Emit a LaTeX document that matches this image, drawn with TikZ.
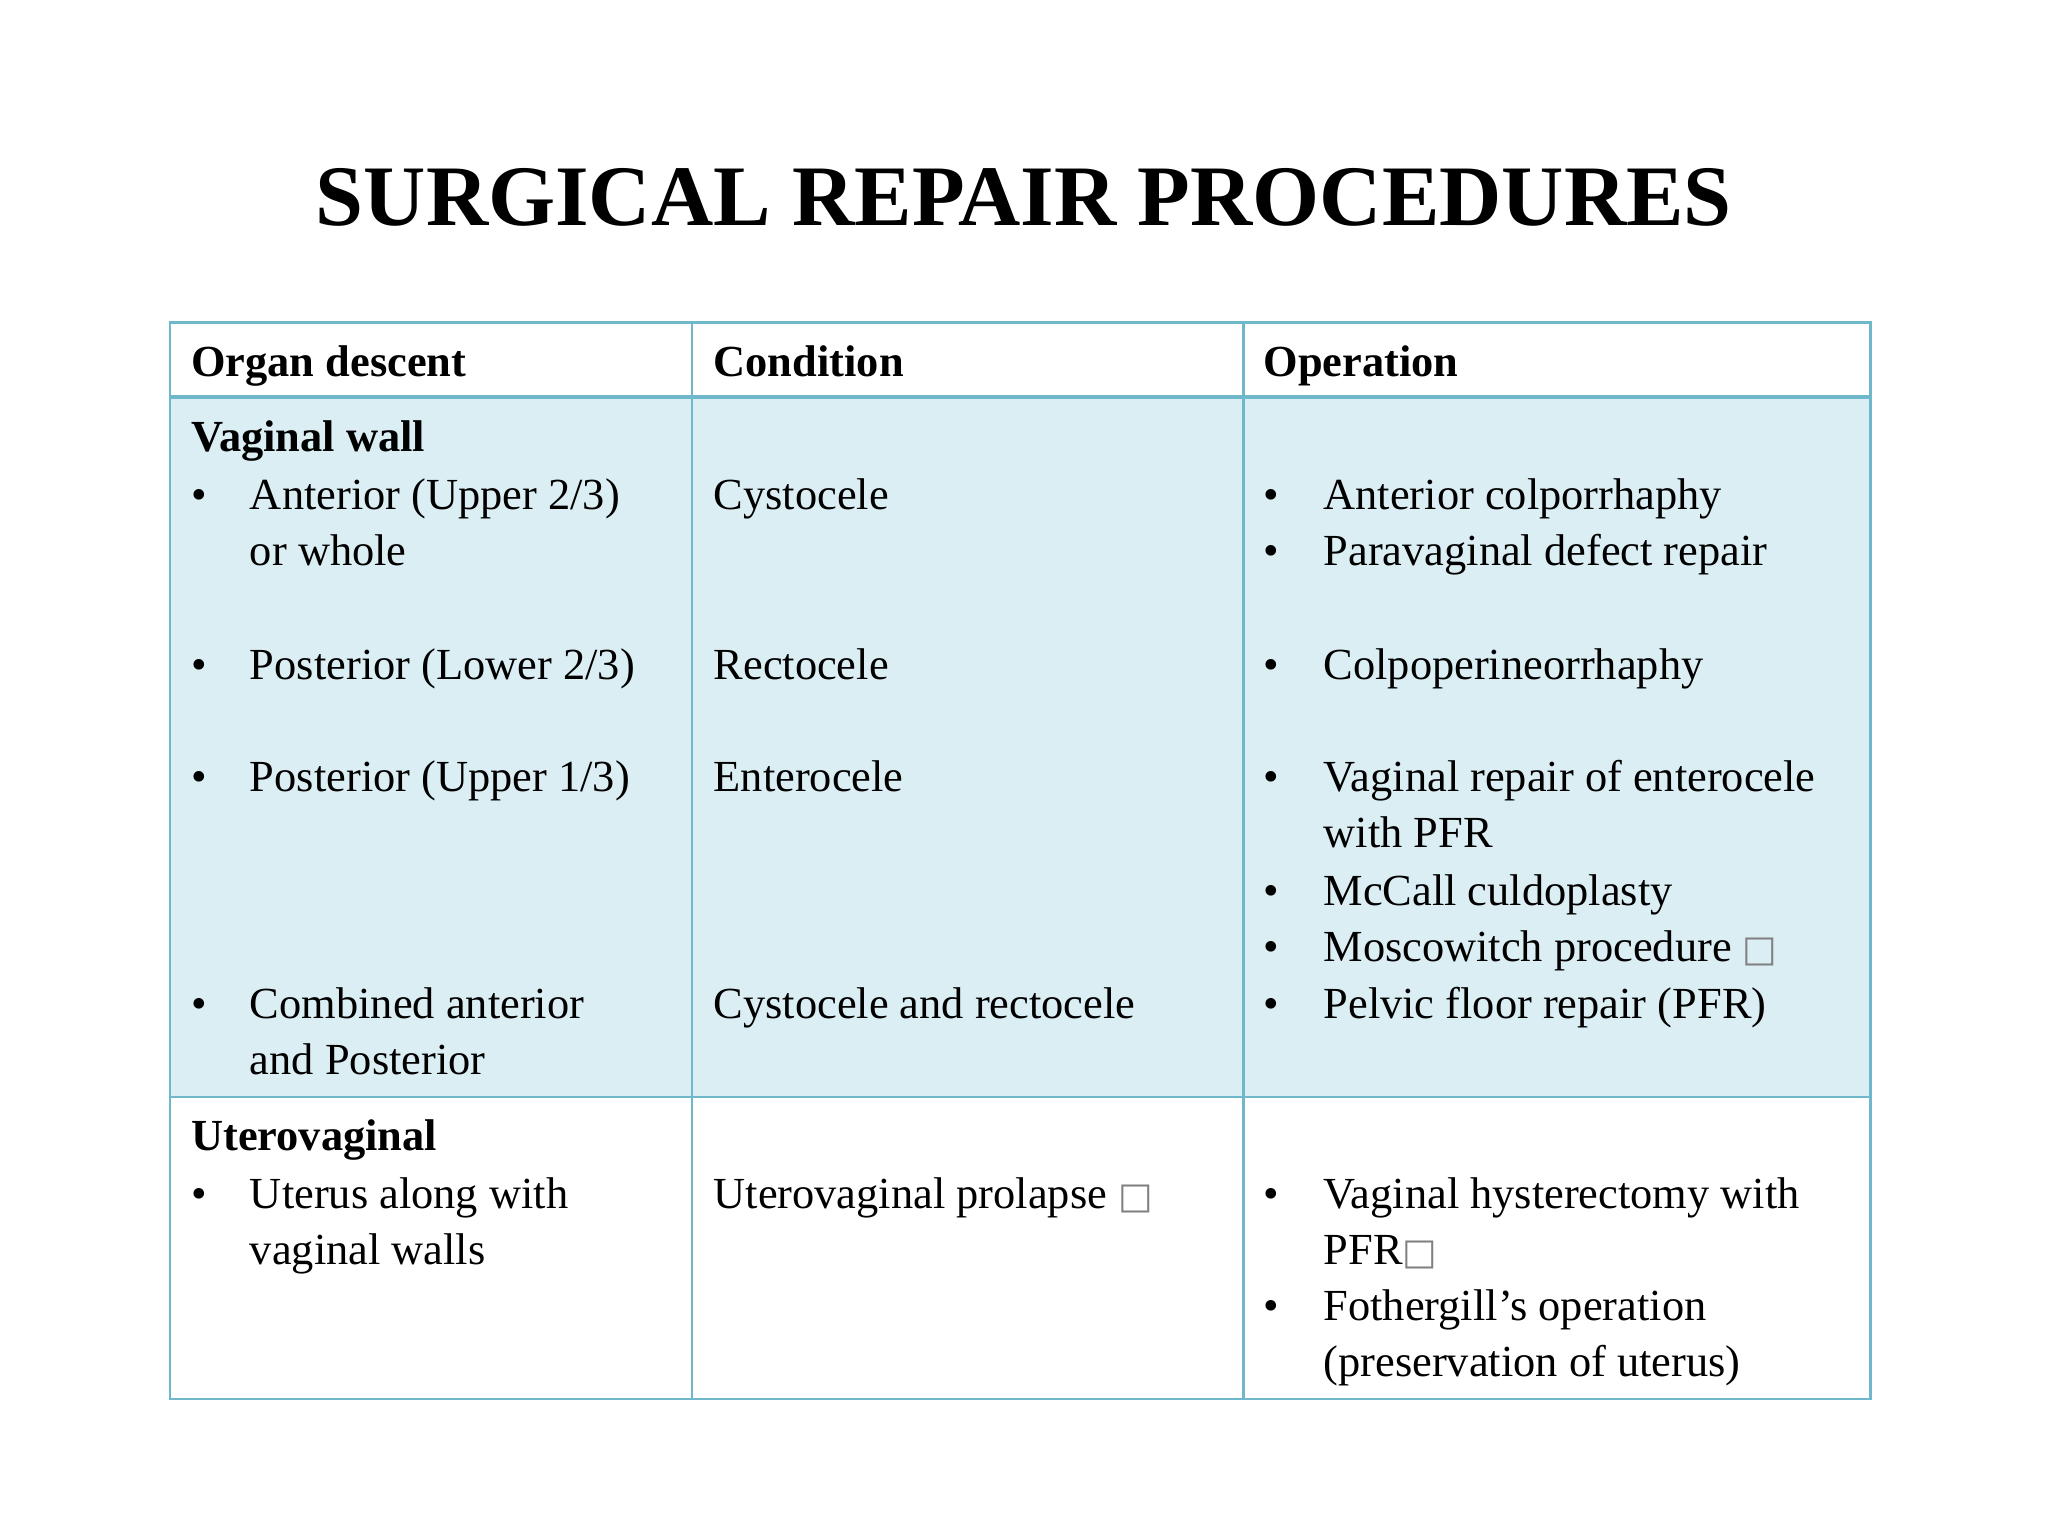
\documentclass[tikz,border=0pt]{standalone}
\usepackage{fontspec}
\setmainfont{Liberation Serif}
\newfontfamily\symf{DejaVu Sans}
\definecolor{cellblue}{HTML}{DBEEF3}
\definecolor{rule}{HTML}{6FB7CB}
\begin{document}
\begin{tikzpicture}[x=0.5pt,y=-0.5pt,
  txt/.style={anchor=base west,inner sep=0pt,font=\fontsize{17}{20}\selectfont},
  hdr/.style={txt,font=\fontsize{17}{20}\selectfont\bfseries},
  bul/.style={anchor=base west,inner sep=0pt,font=\fontsize{17}{20}\selectfont}]
\useasboundingbox (0,0) rectangle (1568,1176);
\fill[white] (0,0) rectangle (1568,1176);
\node[anchor=base,inner sep=0pt,font=\fontsize{33}{36}\selectfont\bfseries] (title) at (784,173) {SURGICAL REPAIR PROCEDURES};
% table
\fill[cellblue] (130,304) rectangle (1432,840);
\draw[rule,line width=0.9pt] (130,247) rectangle (1432,1071);
\draw[rule,line width=0.9pt] (530,247) -- (530,1071) (952,247) -- (952,1071) (130,840) -- (1432,840);
\draw[rule,line width=1.6pt] (130,304) -- (1432,304);
% header
\node[hdr] (h1) at (146,288) {Organ descent};
\node[hdr] (h2) at (546,288) {Condition};
\node[hdr] (h3) at (967,288) {Operation};
% column 1
\node[hdr] (a0) at (146,346) {Vaginal wall};
\foreach \y/\t [count=\i] in {390/{Anterior (Upper 2/3)},433/{or whole},520/{Posterior (Lower 2/3)},606/{Posterior (Upper 1/3)},780/{Combined anterior},823/{and Posterior},925/{Uterus along with},968/{vaginal walls}}
  \node[txt] (a\i) at (191,\y) {\t};
\foreach \y [count=\i] in {390,520,606,780,925}
  \node[bul] (ab\i) at (146,\y) {•};
\node[hdr] (u0) at (146,881) {Uterovaginal};
% column 2
\node[txt] (c1) at (546,390) {Cystocele};
\node[txt] (c2) at (546,520) {Rectocele};
\node[txt] (c3) at (546,606) {Enterocele};
\node[txt] (c4) at (546,780) {Cystocele and rectocele};
\node[txt] (c5) at (546,925) {Uterovaginal prolapse {\symf\fontsize{14}{16}\selectfont\color{gray}□}};
% column 3
\foreach \y/\t [count=\i] in {390/{Anterior colporrhaphy},433/{Paravaginal defect repair},520/{Colpoperineorrhaphy},606/{Vaginal repair of enterocele},649/{with PFR},693/{McCall culdoplasty},736/{Moscowitch procedure {\symf\fontsize{14}{16}\selectfont\color{gray}□}},780/{Pelvic floor repair (PFR)},925/{Vaginal hysterectomy with},968/{PFR{\symf\fontsize{14}{16}\selectfont\color{gray}□}},1011/{Fothergill’s operation},1054/{(preservation of uterus)}}
  \node[txt] (o\i) at (1013,\y) {\t};
\foreach \y [count=\i] in {390,433,520,606,693,736,780,925,1011}
  \node[bul] (ob\i) at (967,\y) {•};
\end{tikzpicture}
\end{document}
